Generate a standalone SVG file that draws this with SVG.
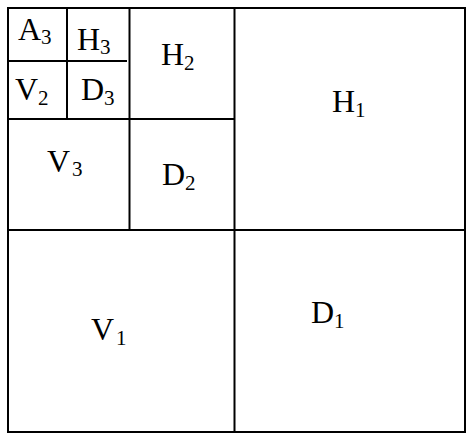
<svg xmlns="http://www.w3.org/2000/svg" width="474" height="444" viewBox="0 0 474 444">
<style>
.l{stroke:#000;stroke-width:2;fill:none}
.t{font-family:"Liberation Serif",serif;font-size:32px;fill:#000}
.s{font-size:21px}
</style>
<rect width="474" height="444" fill="#fff"/>
<g id="grid">
<rect class="l" x="8" y="8" width="457" height="424"/>
<line class="l" x1="8" y1="230" x2="465" y2="230"/>
<line class="l" x1="234.5" y1="8" x2="234.5" y2="432"/>
<line class="l" x1="8" y1="119" x2="234.5" y2="119"/>
<line class="l" x1="129.5" y1="8" x2="129.5" y2="230"/>
<line class="l" x1="8" y1="61" x2="127" y2="61"/>
<line class="l" x1="67" y1="8" x2="67" y2="119"/>
</g>
<g id="A3"><text class="t" x="18" y="40">A<tspan class="s" dy="4">3</tspan></text></g>
<g id="H3"><text class="t" x="77" y="50">H<tspan class="s" dy="4">3</tspan></text></g>
<g id="H2"><text class="t" x="161" y="65">H<tspan class="s" dy="5">2</tspan></text></g>
<g id="V2"><text class="t" x="15" y="100">V<tspan class="s" dy="5">2</tspan></text></g>
<g id="D3"><text class="t" x="81" y="100">D<tspan class="s" dy="5">3</tspan></text></g>
<g id="V3"><text class="t" x="47" y="172">V<tspan class="s" dy="4" dx="2">3</tspan></text></g>
<g id="D2"><text class="t" x="162" y="185">D<tspan class="s" dy="5">2</tspan></text></g>
<g id="H1"><text class="t" x="332" y="112">H<tspan class="s" dy="5">1</tspan></text></g>
<g id="V1"><text class="t" x="91" y="340">V<tspan class="s" dy="5" dx="2">1</tspan></text></g>
<g id="D1"><text class="t" x="311" y="323">D<tspan class="s" dy="5">1</tspan></text></g>
</svg>
